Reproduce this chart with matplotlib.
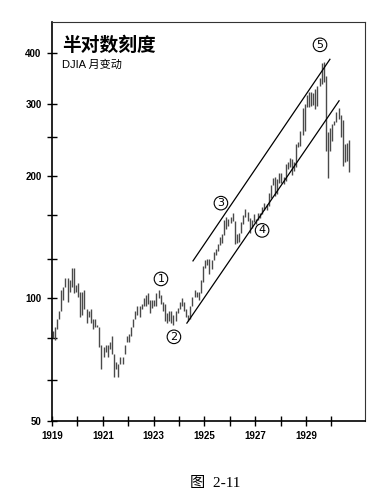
import matplotlib
matplotlib.use("Agg")
import matplotlib.pyplot as plt
from matplotlib.ticker import FixedLocator, NullFormatter, FixedFormatter
import numpy as np

# DJIA monthly high / low, Jan 1919 .. Sep 1930
high = [
    83, 85, 89, 93, 105, 107, 112, 112, 111, 119, 119, 108,   # 1919
    109, 104, 104, 105, 94, 93, 94, 89, 89, 86, 85, 77,        # 1920
    76, 77, 77, 78, 81, 73, 70, 69, 72, 72, 77, 81,            # 1921
    82, 85, 89, 93, 96, 96, 97, 100, 102, 103, 99, 99,         # 1922
    99, 103, 105, 102, 98, 97, 92, 93, 93, 91, 93, 95,         # 1923
    98, 100, 98, 94, 91, 96, 101, 105, 104, 104, 111, 120,     # 1924
    124, 125, 125, 124, 130, 132, 136, 142, 144, 156, 159, 157,  # 1925
    159, 162, 155, 144, 145, 154, 160, 166, 163, 158, 156, 161,  # 1926
    157, 162, 162, 168, 172, 171, 182, 190, 198, 199, 197, 203,  # 1927
    203, 199, 214, 216, 222, 220, 217, 240, 242, 258, 293, 300,  # 1928
    317, 322, 321, 319, 327, 333, 348, 380, 381, 352, 257, 263,  # 1929
    268, 273, 287, 294, 282, 275, 240, 241, 245,                 # 1930
]
low = [
    80, 79, 84, 89, 93, 99, 107, 98, 104, 107, 103, 104,
    101, 90, 91, 94, 87, 90, 87, 84, 85, 85, 76, 67,
    72, 74, 72, 75, 73, 64, 67, 64, 69, 69, 73, 78,
    78, 81, 85, 89, 91, 90, 94, 96, 96, 97, 92, 95,
    96, 96, 100, 97, 93, 88, 87, 88, 87, 86, 88, 92,
    94, 96, 93, 90, 88, 89, 96, 101, 101, 99, 103, 110,
    119, 121, 115, 118, 124, 128, 131, 135, 137, 143, 148, 151,
    153, 155, 136, 137, 138, 145, 152, 159, 155, 145, 149, 154,
    152, 156, 158, 161, 165, 165, 169, 177, 190, 179, 181, 192,
    192, 191, 194, 208, 211, 201, 206, 210, 236, 237, 252, 258,
    296, 295, 297, 299, 292, 297, 333, 337, 340, 230, 198, 230,
    244, 267, 272, 276, 250, 212, 217, 218, 205,
]
start_year = 1919

y_ticks = [50, 63, 80, 100, 125, 160, 200, 250, 300, 400]
y_labels = ["50", "", "", "100", "", "", "200", "", "300", "400"]
x_years = list(range(1919, 1931))

# channel lines (year, value)
upper_line = [(1924.55, 123.7), (1929.94, 387)]
lower_line = [(1924.31, 87), (1930.30, 306)]

# wave labels (text, year, value)
wave_labels = [
    ("1", 1923.29, 111.7),
    ("2", 1923.80, 80.5),
    ("3", 1925.65, 171.5),
    ("4", 1927.27, 147),
    ("5", 1929.55, 420),
]

fig = plt.figure(figsize=(3.85, 4.99), dpi=100)
ax = fig.add_axes([0.135, 0.1563, 0.813, 0.7997])

t = start_year + np.arange(len(high)) / 12 + 0.03
ax.vlines(t, low, high, color="#4a4a4a", linewidth=1.0)

for (x0, y0), (x1, y1) in [upper_line, lower_line]:
    ax.plot([x0, x1], [y0, y1], color="black", linewidth=0.9)

for txt, x, y in wave_labels:
    ax.text(x, y, txt, fontsize=8, ha="center", va="center",
            family="DejaVu Sans",
            bbox=dict(boxstyle="circle,pad=0.16", facecolor="white",
                      edgecolor="black", linewidth=0.8))

ax.set_yscale("log")
ax.set_ylim(50, 478)
ax.set_xlim(1919, 1931.32)
ax.yaxis.set_major_locator(FixedLocator(y_ticks))
ax.yaxis.set_major_formatter(FixedFormatter(y_labels))
ax.yaxis.set_minor_formatter(NullFormatter())
ax.yaxis.set_minor_locator(FixedLocator([]))
ax.set_xticks(x_years)
ax.set_xticklabels([str(y) if (y - 1919) % 2 == 0 else "" for y in x_years])

ax.tick_params(axis="both", direction="inout", length=7, width=1.0,
               labelsize=7, pad=4)
for lab in ax.get_xticklabels() + ax.get_yticklabels():
    lab.set_fontweight("bold")
    lab.set_family("Liberation Sans")

for side in ["left", "bottom"]:
    ax.spines[side].set_linewidth(1.2)
for side in ["top", "right"]:
    ax.spines[side].set_linewidth(0.8)
    ax.spines[side].set_color("#333333")

ax.text(0.032, 0.965, "半对数刻度", transform=ax.transAxes, fontsize=13.5,
        fontweight="bold", family=["Noto Sans CJK SC"], va="top", ha="left")
ax.text(0.032, 0.905, "DJIA 月变动", transform=ax.transAxes, fontsize=8,
        family=["Liberation Sans", "Noto Sans CJK SC"],
        va="top", ha="left")

fig.text(0.56, 0.032, "图  2-11", fontsize=11, ha="center", va="center",
         family=["Liberation Serif", "Noto Sans CJK SC"])

fig.savefig("out.png", dpi=100)
